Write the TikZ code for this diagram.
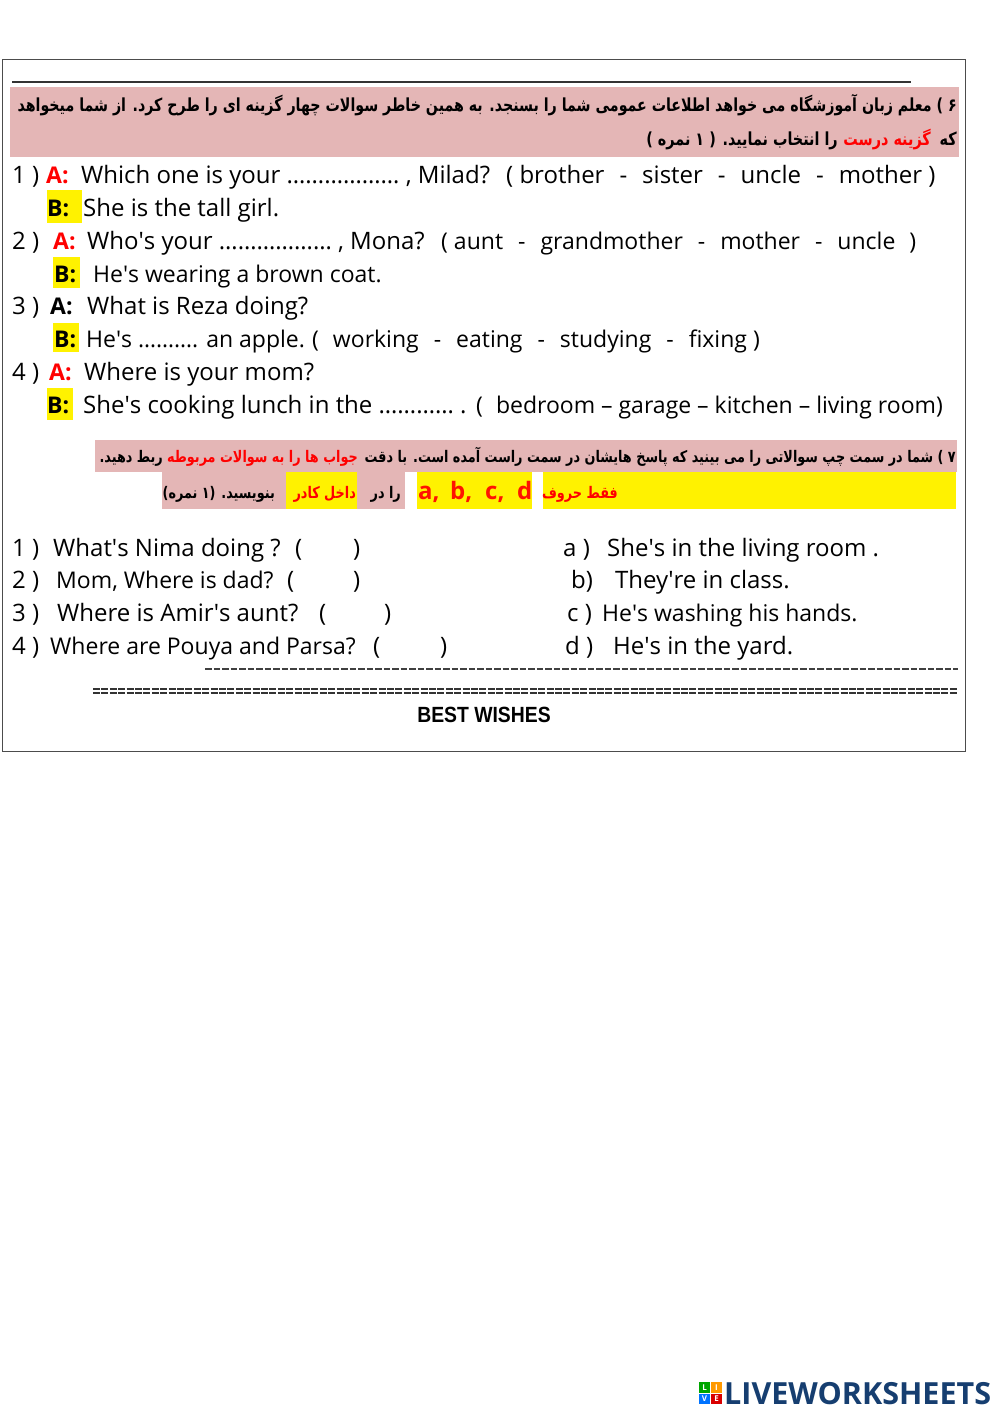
\documentclass[tikz,border=0pt]{standalone}
\usepackage{fontspec}
\setmainfont{Open Sans}
\newfontfamily\farsi[Script=Arabic]{DejaVu Sans}
\newfontfamily\headfont{Liberation Sans}
\TeXXeTstate=1
\definecolor{rosebar}{RGB}{228,182,182}
\definecolor{logoblue}{RGB}{22,62,112}
\newcommand{\ap}{\textquotesingle}
\newcommand{\dashgap}{\hspace{15pt}-\hspace{15pt}}
\tikzset{
  qline/.style = {anchor=base west, inner sep=0pt, font=\fontsize{24}{24}\selectfont},
  qlinetight/.style = {qline, font=\fontsize{23}{23}\selectfont},
  speaker/.style = {qline, font=\fontsize{23}{23}\bfseries\selectfont},
  farsiline/.style = {anchor=base east, inner sep=0pt, xscale=0.8, transform shape,
    font=\fontsize{18}{18}\farsi\bfseries\selectfont},
  farsismall/.style = {farsiline, font=\fontsize{16}{16}\farsi\bfseries\selectfont},
  tile/.style = {minimum size=10.5pt, inner sep=0pt, text=white, font=\fontsize{8}{8}\bfseries\selectfont}
}
\begin{document}
\begin{tikzpicture}[x=1pt,y=-1pt]
      \useasboundingbox (0,0) rectangle (1000,1413);
      \draw[black!70, line width=1pt] (2,60) rectangle (965,751);
      \draw[black!80, line width=1.4pt] (12,82) -- (911,82);

      \fill[rosebar] (10,87) rectangle (959,157);
      \fill[rosebar] (95,440) rectangle (957,472);
      \fill[rosebar] (162,472) rectangle (405,509);
      \fill[yellow] (286,472) rectangle (357,509);
      \fill[yellow] (417,472) rectangle (532,509);
      \fill[yellow] (543,472) rectangle (956,509);
      \fill[yellow] (47,190) rectangle (82,223);
      \fill[yellow] (53,257) rectangle (80,288);
      \fill[yellow] (53,323) rectangle (79,352);
      \fill[yellow] (47,388) rectangle (73,420);

      \node[farsiline, xscale=0.987] (headSix) at (957,111)
      {\beginR ۶ ) معلم زبان آموزشگاه می خواهد اطلاعات عمومی شما را بسنجد. به همین خاطر سوالات چهار گزینه ای را طرح کرد. از شما میخواهد\endR};
      \node[farsiline] (headSixA) at (957,145) {\beginR که\endR};
      \node[farsiline, text=red] (headSixB) at (931,145) {\beginR گزینه درست\endR};
      \node[farsiline] (headSixC) at (838,145) {\beginR را انتخاب نمایید. ( ۱ نمره )\endR};

      \node[qline] (numA) at (12,183) {1 )};
      \node[speaker, text=red] (askA) at (46,183) {A:};
      \node[qline] (textA) at (81,183) {Which one is your ……………… , Milad?};
      \node[qline] (optA) at (506,183) {( brother\dashgap sister\dashgap uncle\dashgap mother )};
      \node[speaker] (ansA) at (47,216) {B:};
      \node[qline] (replyA) at (83,216) {She is the tall girl.};

      \node[qline] (numB) at (12,249) {2 )};
      \node[speaker, text=red] (askB) at (53,249) {A:};
      \node[qline] (textB) at (87,249) {Who\ap s your ……………… , Mona?};
      \node[qlinetight] (optB) at (441,249) {( aunt\dashgap grandmother\dashgap mother\dashgap uncle\hspace{8pt} )};
      \node[speaker] (ansB) at (54,282) {B:};
      \node[qlinetight] (replyB) at (93,282) {He\ap s wearing a brown coat.};

      \node[qline] (numC) at (12,314) {3 )};
      \node[speaker] (askC) at (50,314) {A:};
      \node[qline] (textC) at (87,314) {What is Reza doing?};
      \node[speaker] (ansC) at (54,347) {B:};
      \node[qlinetight] (replyC) at (86,347) {He\ap s ………. an apple.};
      \node[qlinetight] (optC) at (312,347) {(\hspace{14pt}working\dashgap eating\dashgap studying\dashgap fixing )};

      \node[qline] (numD) at (12,380) {4 )};
      \node[speaker, text=red] (askD) at (49,380) {A:};
      \node[qline] (textD) at (84,380) {Where is your mom?};
      \node[speaker] (ansD) at (47,413) {B:};
      \node[qline] (replyD) at (83,413) {She\ap s cooking lunch in the ………… .};
      \node[qlinetight] (optD) at (476,413) {(\hspace{13pt}bedroom – garage – kitchen – living room)};

      \node[farsismall] (headSeven) at (956,462)
      {\beginR ۷ ) شما در سمت چپ سوالاتی را می بینید که پاسخ هایشان در سمت راست آمده است. با دقت\endR};
      \node[farsismall, text=red] (headSevenB) at (358,462) {\beginR جواب ها را به سوالات مربوطه\endR};
      \node[farsismall] (headSevenC) at (163,462) {\beginR ربط دهید.\endR};
      \node[farsismall, text=red] (onlyLetters) at (618,498) {\beginR فقط حروف\endR};
      \node[qline, text=red!85!orange, font=\fontsize{24}{24}\bfseries\selectfont] (letters) at (418,499)
      {\makebox[32pt][l]{a,}\makebox[35pt][l]{b,}\makebox[32pt][l]{c,}d};
      \node[farsismall] (inWord) at (401,498) {\beginR را در\endR};
      \node[farsismall, text=red] (boxWord) at (356,498) {\beginR داخل کادر\endR};
      \node[farsismall] (writeWord) at (275,498) {\beginR بنویسید. (۱ نمره)\endR};

      \node[qline] (matchNumA) at (12,556) {1 )};
      \node[qline] (matchA) at (53,556) {What\ap s Nima doing ?};
      \node[qline] (openA) at (295,556) {(};
      \node[qline] (closeA) at (353,556) {)};
      \node[qline] (matchNumB) at (12,588) {2 )};
      \node[qlinetight] (matchB) at (56,588) {Mom, Where is dad?};
      \node[qline] (openB) at (287,588) {(};
      \node[qline] (closeB) at (353,588) {)};
      \node[qline] (matchNumC) at (12,621) {3 )};
      \node[qline] (matchC) at (57,621) {Where is Amir\ap s aunt?};
      \node[qline] (openC) at (319,621) {(};
      \node[qline] (closeC) at (384,621) {)};
      \node[qline] (matchNumD) at (12,654) {4 )};
      \node[qlinetight] (matchD) at (50,654) {Where are Pouya and Parsa?};
      \node[qline] (openD) at (373,654) {(};
      \node[qline] (closeD) at (440,654) {)};

      \node[qline] (pickA) at (563,556) {a )};
      \node[qline] (answerA) at (607,556) {She\ap s in the living room .};
      \node[qline] (pickB) at (571,588) {b)};
      \node[qline] (answerB) at (615,588) {They\ap re in class.};
      \node[qline] (pickC) at (567,621) {c )};
      \node[qlinetight] (answerC) at (602,621) {He\ap s washing his hands.};
      \node[qline] (pickD) at (565,654) {d )};
      \node[qline] (answerD) at (613,654) {He\ap s in the yard.};

      \draw[black!75, line width=1.4pt, dash pattern=on 6.5pt off 2pt] (205,669) -- (958,669);
      \draw[black!80, line width=1.3pt, dash pattern=on 7pt off 1.4pt] (93,689) -- (957,689);
      \draw[black!80, line width=1.3pt, dash pattern=on 7pt off 1.4pt] (93,693) -- (957,693);

      \node[anchor=center, inner sep=0pt, xscale=0.88, transform shape,
        font=\fontsize{22}{22}\headfont\bfseries\selectfont] (wishes) at (484,715) {BEST WISHES};

      \node[tile, fill=green!65!black] (tileL) at (704.5,1387.5) {L};
      \node[tile, fill=orange!80!yellow] (tileI) at (716.5,1387.5) {I};
      \node[tile, fill=blue!55!cyan] (tileV) at (704.5,1399) {V};
      \node[tile, fill=red!85!black] (tileE) at (716.5,1399) {E};
      \node[anchor=base west, inner sep=0pt, text=logoblue,
        font=\fontsize{30.5}{30.5}\bfseries\selectfont] (logoText) at (724,1404) {LIVEWORKSHEETS};
\end{tikzpicture}
\end{document}
